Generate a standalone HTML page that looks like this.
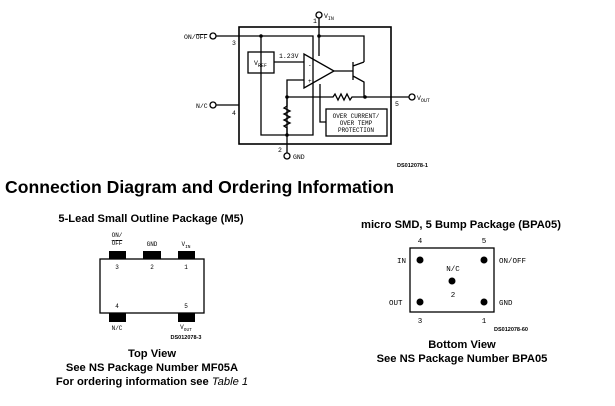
<!DOCTYPE html>
<html><head><style>body{margin:0;background:#fff}svg{display:block}</style></head><body>
<svg width="615" height="406" viewBox="0 0 615 406" xmlns="http://www.w3.org/2000/svg" font-family="Liberation Sans, sans-serif">
<g stroke="#000" stroke-width="1.3" fill="none">
<rect x="239" y="27" width="152" height="117" stroke-width="1.6"/>
<circle cx="213" cy="36" r="3" fill="#fff"/>
<circle cx="319" cy="15" r="3" fill="#fff"/>
<circle cx="213" cy="105" r="3" fill="#fff"/>
<circle cx="412" cy="97" r="3" fill="#fff"/>
<circle cx="287" cy="156" r="3" fill="#fff"/>
<path d="M216 36H313V135H261V36"/>
<path d="M319 18V56M319 36H364V62"/>
<rect x="248" y="52" width="26" height="21"/>
<path d="M274 62H304"/>
<path d="M304 54V88L334 71Z"/>
<path d="M304 80H287V153"/>
<path d="M287 97H333l2-3 3 6 3-6 3 6 3-6 3 6 2-3H409"/>
<path d="M287 97V106l-3 2 6 3-6 3 6 3-6 3 6 3-6 3 3 2V135" fill="none"/>
<path d="M334 71H353M353 62V80M353 66L364 62M353 76L364 82V97"/>
<path d="M320 84V122H326"/>
<rect x="326" y="109" width="61" height="27"/>
<path d="M216 105H239"/>
</g>
<g fill="#000">
<circle cx="261" cy="36" r="1.8"/><circle cx="319" cy="36" r="1.8"/><circle cx="287" cy="97" r="1.8"/><circle cx="365" cy="97" r="1.8"/><circle cx="287" cy="135" r="1.8"/>
</g>
<g font-size="6.5" font-family="Liberation Mono, monospace">
<text x="184" y="39">ON/<tspan text-decoration="overline">OFF</tspan></text>
<text x="196" y="108">N/C</text>
<text x="324" y="18">V<tspan font-size="5" dy="2">IN</tspan></text>
<text x="417" y="100">V<tspan font-size="5" dy="2">OUT</tspan></text>
<text x="293" y="159">GND</text>
<text x="254" y="65">V<tspan font-size="5" dy="2">REF</tspan></text>
<text x="279" y="58">1.23V</text>
<text x="308" y="67" font-size="6">-</text><text x="308" y="83" font-size="6">+</text>
<text x="356" y="118" text-anchor="middle" font-size="6">OVER CURRENT/</text>
<text x="356" y="125" text-anchor="middle" font-size="6">OVER TEMP</text>
<text x="356" y="132" text-anchor="middle" font-size="6">PROTECTION</text>
<text x="232" y="45">3</text><text x="232" y="115">4</text><text x="313" y="23">1</text><text x="278" y="152">2</text><text x="395" y="106">5</text>
</g>
<text x="397" y="167" font-size="5.5" font-weight="bold">DS012078-1</text>
<text x="5" y="193" font-size="17.6" font-weight="bold">Connection Diagram and Ordering Information</text>
<g font-size="11.2" font-weight="bold" text-anchor="middle">
<text x="151" y="222">5-Lead Small Outline Package (M5)</text>
<text x="461" y="228">micro SMD, 5 Bump Package (BPA05)</text>
<text x="152" y="357">Top View</text>
<text x="152" y="371">See NS Package Number MF05A</text>
<text x="152" y="385">For ordering information see <tspan font-style="italic" font-weight="normal">Table 1</tspan></text>
<text x="462" y="348">Bottom View</text>
<text x="462" y="362">See NS Package Number BPA05</text>
</g>
<rect x="100" y="259" width="104" height="54" fill="none" stroke="#000" stroke-width="1.3"/>
<g fill="#000"><rect x="109" y="251" width="17" height="8"/><rect x="143" y="251" width="18" height="8"/><rect x="178" y="251" width="17" height="8"/><rect x="109" y="313" width="17" height="9"/><rect x="178" y="313" width="17" height="9"/></g>
<g font-size="6" font-family="Liberation Mono, monospace" text-anchor="middle">
<text x="117" y="237">ON/</text><text x="117" y="245" text-decoration="overline">OFF</text>
<text x="152" y="246">GND</text><text x="186" y="246">V<tspan font-size="4.5" dy="2">IN</tspan></text>
<text x="117" y="269">3</text><text x="152" y="269">2</text><text x="186" y="269">1</text>
<text x="117" y="308">4</text><text x="186" y="308">5</text>
<text x="117" y="330">N/C</text><text x="186" y="329">V<tspan font-size="4.5" dy="2">OUT</tspan></text>
</g>
<text x="186" y="339" font-size="5.5" font-weight="bold" text-anchor="middle">DS012078-3</text>
<rect x="410" y="248" width="84" height="64" fill="none" stroke="#000" stroke-width="1.3"/>
<g fill="#000"><circle cx="420" cy="260" r="3.5"/><circle cx="484" cy="260" r="3.5"/><circle cx="452" cy="281" r="3.5"/><circle cx="420" cy="302" r="3.5"/><circle cx="484" cy="302" r="3.5"/></g>
<g font-size="7.5" font-family="Liberation Mono, monospace">
<text x="397" y="263">IN</text><text x="499" y="263">ON/<tspan text-decoration="overline">OFF</tspan></text>
<text x="389" y="305">OUT</text><text x="499" y="305">GND</text>
<text x="453" y="271" text-anchor="middle">N/C</text><text x="453" y="297" text-anchor="middle">2</text>
<text x="420" y="243" text-anchor="middle">4</text><text x="484" y="243" text-anchor="middle">5</text>
<text x="420" y="323" text-anchor="middle">3</text><text x="484" y="323" text-anchor="middle">1</text>
</g>
<text x="494" y="331" font-size="5.5" font-weight="bold">DS012078-60</text>
</svg>
</body></html>
